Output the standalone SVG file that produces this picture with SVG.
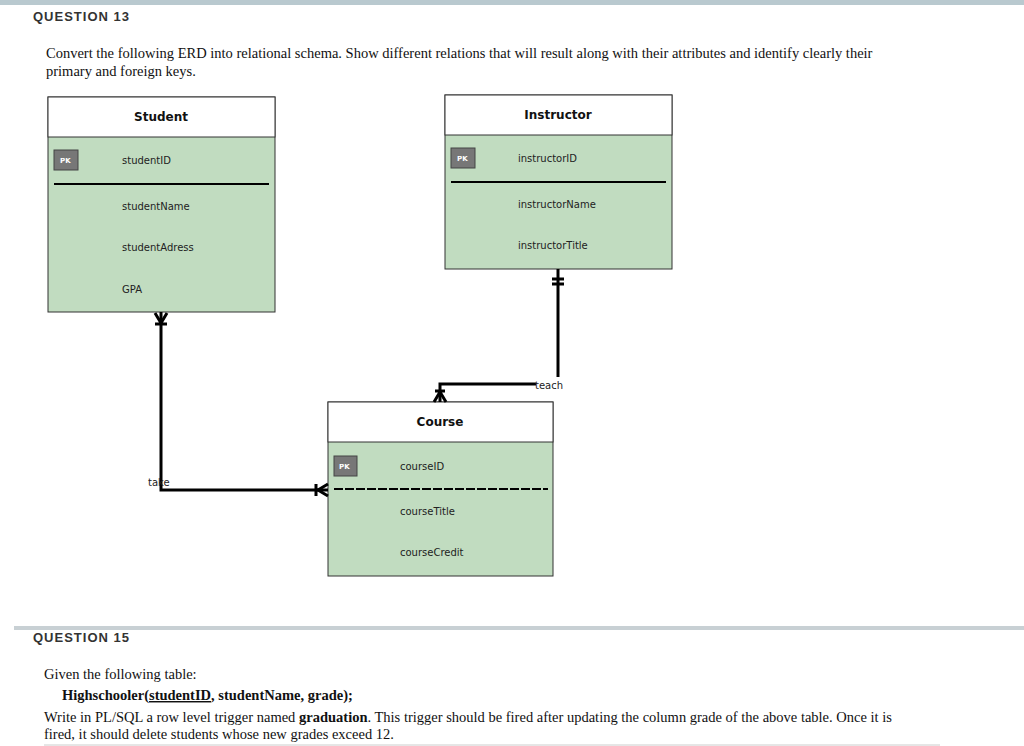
<svg xmlns="http://www.w3.org/2000/svg" width="1024" height="746" viewBox="0 0 1024 746">
<style>
.q{font-family:"Liberation Sans",Arial,sans-serif;font-weight:bold;font-size:13px;fill:#333;letter-spacing:1px}
.t{font-family:"Liberation Serif","Times New Roman",serif;font-size:14.5px;fill:#111}
.h{font-family:"DejaVu Sans",sans-serif;font-size:12px;font-weight:bold;fill:#111;text-anchor:middle}
.a{font-family:"DejaVu Sans",sans-serif;font-size:10px;fill:#222}
.box{fill:#c1dcc0;stroke:#333;stroke-width:1}
.hd{fill:#fff;stroke:#333;stroke-width:1}
.pk{fill:#777;stroke:#444}
.pkt{font-family:"DejaVu Sans",sans-serif;font-size:7px;fill:#fff;font-weight:bold}
.ln{stroke:#000;stroke-width:3;fill:none}
</style>
<rect width="1024" height="746" fill="#fff"/>
<rect x="0" y="0" width="1024" height="5" fill="#b9c9cf"/>
<rect x="14" y="626" width="1010" height="4" fill="#c8d0d4"/>
<text class="q" x="33" y="21">QUESTION 13</text>
<text class="t" x="46" y="58">Convert the following ERD into relational schema. Show different relations that will result along with their attributes and identify clearly their</text>
<text class="t" x="46" y="76">primary and foreign keys.</text>
<g id="student">
<rect class="box" x="48" y="97" width="227" height="215"/>
<rect class="hd" x="48" y="97" width="227" height="40"/>
<text class="h" x="161" y="121">Student</text>
<rect class="pk" x="54" y="150" width="24" height="20"/><text class="pkt" x="60" y="163">PK</text>
<text class="a" x="122" y="164">studentID</text>
<line x1="54" y1="184" x2="269" y2="184" stroke="#000" stroke-width="2"/>
<text class="a" x="122" y="210">studentName</text>
<text class="a" x="122" y="251">studentAdress</text>
<text class="a" x="122" y="293">GPA</text>
</g>
<g id="instructor">
<rect class="box" x="445" y="95" width="227" height="174"/>
<rect class="hd" x="445" y="95" width="227" height="40"/>
<text class="h" x="558" y="119">Instructor</text>
<rect class="pk" x="451" y="148" width="24" height="20"/><text class="pkt" x="457" y="161">PK</text>
<text class="a" x="518" y="162">instructorID</text>
<line x1="451" y1="182" x2="666" y2="182" stroke="#000" stroke-width="2"/>
<text class="a" x="518" y="208">instructorName</text>
<text class="a" x="518" y="249">instructorTitle</text>
</g>
<g id="course">
<rect class="box" x="328" y="402" width="225" height="174"/>
<rect class="hd" x="328" y="402" width="225" height="40"/>
<text class="h" x="440" y="426">Course</text>
<rect class="pk" x="334" y="456" width="23" height="20"/><text class="pkt" x="339" y="469">PK</text>
<text class="a" x="400" y="470">courseID</text>
<line x1="334" y1="489" x2="548" y2="489" stroke="#000" stroke-width="2" stroke-dasharray="9,2"/>
<text class="a" x="400" y="515">courseTitle</text>
<text class="a" x="400" y="556">courseCredit</text>
</g>
<g id="connectors">
<polyline class="ln" points="161,312 161,490 328,490"/>
<path class="ln" d="M155,313 L161,323 L167,313 M155,324 H167" stroke-width="2"/>
<path class="ln" d="M328,484 L318,490 L328,496 M316,484 V496" stroke-width="2"/>
<polyline class="ln" points="558,269 558,377"/>
<path class="ln" d="M552,279 H564 M552,284 H564" stroke-width="2"/>
<polyline class="ln" points="536,384 440,384 440,402"/>
<path class="ln" d="M434,402 L440,392 L446,402 M435,391 H445" stroke-width="2"/>
<text class="a" x="148" y="486">take</text>
<text class="a" x="535" y="389">teach</text>
</g>
<text class="q" x="33" y="642">QUESTION 15</text>
<text class="t" x="44" y="679">Given the following table:</text>
<text class="t" x="62" y="700" font-weight="bold">Highschooler(<tspan text-decoration="underline">studentID</tspan>, studentName, grade);</text>
<text class="t" x="44" y="722">Write in PL/SQL a row level trigger named <tspan font-weight="bold">graduation</tspan>. This trigger should be fired after updating the column grade of the above table. Once it is</text>
<text class="t" x="44" y="739">fired, it should delete students whose new grades exceed 12.</text>
<line x1="44" y1="745" x2="940" y2="745" stroke="#ccc"/>
</svg>
